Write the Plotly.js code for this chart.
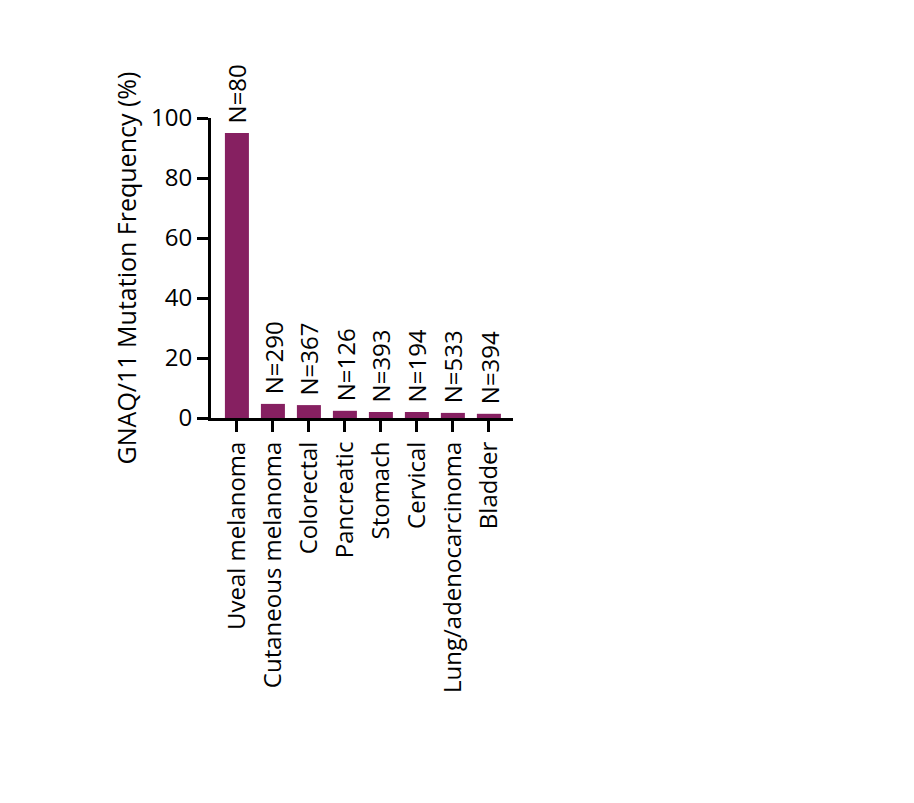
<!DOCTYPE html>
<html>
<head>
<meta charset="utf-8">
<script src="https://cdn.plot.ly/plotly-3.0.1.min.js"></script>
<style>
  html, body { margin: 0; padding: 0; background: #fff; }
  #plot { width: 914px; height: 803px; }
</style>
</head>
<body>
<div id="plot"></div>
<script>
// cancer types and GNAQ/11 mutation frequency (%)
const cancers = ["Uveal melanoma", "Cutaneous melanoma", "Colorectal", "Pancreatic",
                 "Stomach", "Cervical", "Lung/adenocarcinoma", "Bladder"];
const freq = [95, 4.7, 4.3, 2.4, 2.0, 2.0, 1.7, 1.4];
const sampleN = [80, 290, 367, 126, 393, 194, 533, 394];

const font = "'Open Sans', 'Noto Sans', sans-serif";

const trace = {
  type: "bar",
  x: cancers,
  y: freq,
  width: 0.667,
  marker: { color: "#862061", line: { width: 0 } },
  hoverinfo: "none"
};

const annotations = cancers.map((c, i) => ({
  x: c,
  y: freq[i],
  xref: "x",
  yref: "y",
  text: "N=" + sampleN[i],
  textangle: -90,
  showarrow: false,
  xanchor: "center",
  yanchor: "bottom",
  yshift: 8,
  font: { family: font, size: 24, color: "#000" }
}));

const layout = {
  width: 914,
  height: 803,
  margin: { l: 211, r: 401, t: 118, b: 385 },
  paper_bgcolor: "#fff",
  plot_bgcolor: "#fff",
  showlegend: false,
  font: { family: font, color: "#000" },
  xaxis: {
    type: "category",
    range: [-0.72, 7.67],
    showline: true,
    linecolor: "#000",
    linewidth: 3,
    ticks: "outside",
    ticklen: 11,
    tickwidth: 3,
    tickcolor: "#000",
    tickangle: -90,
    tickfont: { family: font, size: 24, color: "#000" },
    showgrid: false,
    zeroline: false,
    fixedrange: true
  },
  yaxis: {
    range: [0, 100],
    tickvals: [0, 20, 40, 60, 80, 100],
    showline: true,
    linecolor: "#000",
    linewidth: 3,
    ticks: "outside",
    ticklen: 11,
    tickwidth: 3,
    tickcolor: "#000",
    tickfont: { family: font, size: 24, color: "#000" },
    showgrid: false,
    zeroline: false,
    fixedrange: true,
    title: {
      text: "GNAQ/11 Mutation Frequency (%)",
      font: { family: font, size: 25, color: "#000" },
      standoff: 8
    }
  },
  annotations: annotations
};

Plotly.newPlot("plot", [trace], layout, { displayModeBar: false, staticPlot: true });
</script>
</body>
</html>
